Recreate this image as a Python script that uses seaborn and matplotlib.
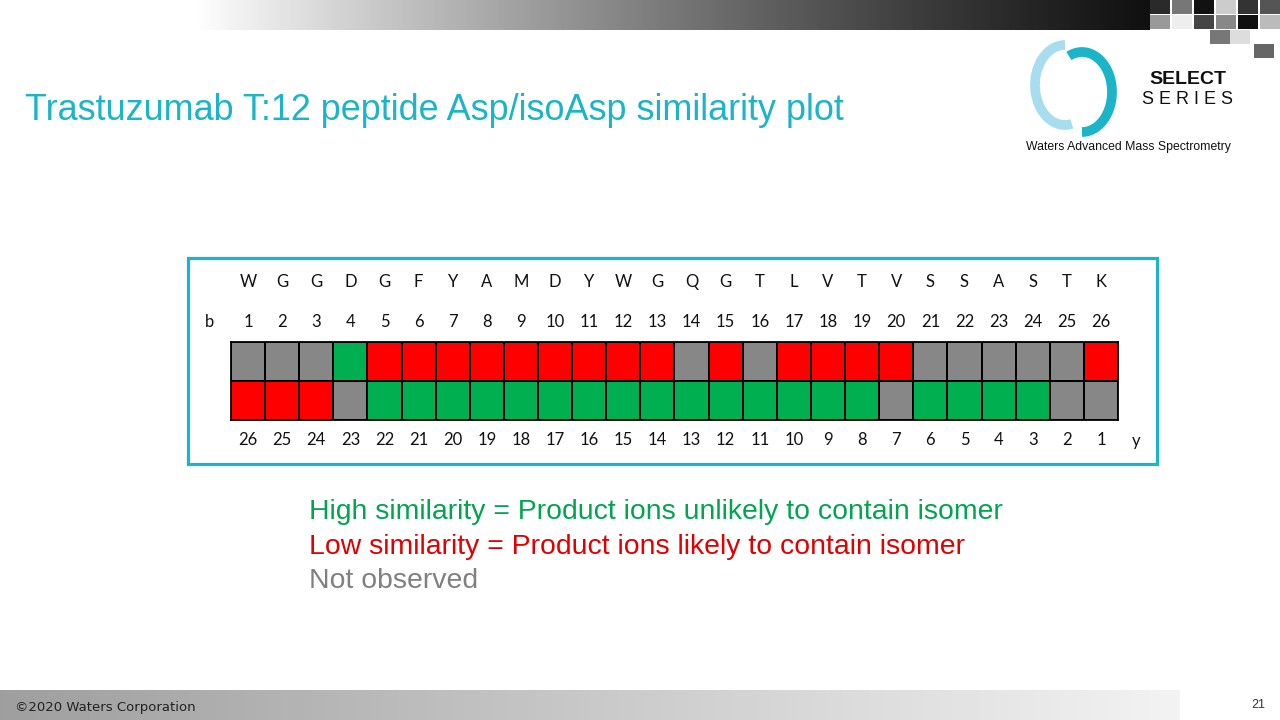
import numpy as np
import pandas as pd
import matplotlib
matplotlib.use("Agg")
import matplotlib.pyplot as plt
from matplotlib.colors import ListedColormap
from matplotlib.patches import Rectangle, Arc
import seaborn as sns

# --- data ---
residues = ['W', 'G', 'G', 'D', 'G', 'F', 'Y', 'A', 'M', 'D', 'Y', 'W', 'G',
            'Q', 'G', 'T', 'L', 'V', 'T', 'V', 'S', 'S', 'A', 'S', 'T', 'K']
b_ions = list(range(1, 27))
y_ions = list(range(26, 0, -1))
# N = not observed, H = high similarity, L = low similarity
b_status = ['N', 'N', 'N', 'H', 'L', 'L', 'L', 'L', 'L', 'L', 'L', 'L', 'L',
            'N', 'L', 'N', 'L', 'L', 'L', 'L', 'N', 'N', 'N', 'N', 'N', 'L']
y_status = ['L', 'L', 'L', 'N', 'H', 'H', 'H', 'H', 'H', 'H', 'H', 'H', 'H',
            'H', 'H', 'H', 'H', 'H', 'H', 'N', 'H', 'H', 'H', 'H', 'N', 'N']

GRAY, GREEN, RED = '#878787', '#00B050', '#FF0000'
CYAN = '#1CB4C8'
code = {'N': 0, 'H': 1, 'L': 2}

W, H = 1280, 720
def fx(x): return x / W
def fy(y): return 1 - y / H

sns.set_theme(style='white')
plt.rcParams['font.family'] = ['Liberation Sans', 'DejaVu Sans']

fig = plt.figure(figsize=(12.8, 7.2), dpi=100)
fig.patch.set_facecolor('white')

# --- top gradient banner ---
bar = fig.add_axes([fx(190), fy(30), fx(1150) - fx(190), 30 / H])
grad = np.linspace(1.0, 0.12, 300) ** 1.3
bar.imshow(grad[None, :], cmap='gray', vmin=0, vmax=1, aspect='auto')
bar.axis('off')
# pixel squares at top right
sq = [(1150, 0, '#2a2a2a'), (1172, 0, '#777777'), (1194, 0, '#111111'), (1216, 0, '#cccccc'),
      (1238, 0, '#333333'), (1260, 0, '#555555'), (1150, 15, '#999999'), (1172, 15, '#eeeeee'),
      (1194, 15, '#444444'), (1216, 15, '#888888'), (1238, 15, '#111111'), (1260, 15, '#bbbbbb'),
      (1210, 30, '#777777'), (1254, 44, '#666666'), (1230, 30, '#dddddd')]
for x, y, c in sq:
    fig.patches.append(Rectangle((fx(x), fy(y + 14)), 20 / W, 14 / H, transform=fig.transFigure,
                                 facecolor=c, edgecolor='none'))

# --- bottom bar ---
bot = fig.add_axes([0, 0, fx(1180), 30 / H])
bot.imshow(np.linspace(0.62, 0.95, 300)[None, :], cmap='gray', vmin=0, vmax=1, aspect='auto')
bot.axis('off')
fig.text(fx(15), fy(708), '©2020 Waters Corporation', fontsize=9.5, color='#222222',
         va='center', family=['DejaVu Sans'])
fig.text(fx(1258), fy(705), '21', fontsize=9, color='#333333', va='center', ha='center')

# --- title ---
fig.text(fx(25), fy(110), 'Trastuzumab T:12 peptide Asp/isoAsp similarity plot',
         fontsize=25.9, color=CYAN, va='center', ha='left')

# --- logo ---
logo = fig.add_axes([fx(1020), fy(140), 100 / W, 100 / H])
logo.set_xlim(0, 100)
logo.set_ylim(0, 100)
logo.axis('off')
logo.add_patch(Arc((45, 55), 60, 80, theta1=90, theta2=280, lw=7, color='#A8DDF0'))
logo.add_patch(Arc((62, 48), 60, 80, theta1=-90, theta2=110, lw=7, color=CYAN))
fig.text(fx(1188), fy(79), 'SELECT', fontsize=14, fontweight='bold', color='#111111',
         ha='center', va='center')
fig.text(fx(1188), fy(100), 'S E R I E S', fontsize=13, color='#111111', ha='center', va='center')
fig.text(fx(1128), fy(147), 'Waters Advanced Mass Spectrometry', fontsize=8.8, color='#111111',
         ha='center', va='center')

# --- similarity grid ---
grid = pd.DataFrame([[code[s] for s in b_status], [code[s] for s in y_status]],
                    index=['b', 'y'], columns=range(1, 27))
ax = fig.add_axes([fx(231), fy(420), fx(1118) - fx(231), (420 - 342) / H])
sns.heatmap(grid, cmap=ListedColormap([GRAY, GREEN, RED]), vmin=-0.5, vmax=2.5,
            cbar=False, linewidths=1.3, linecolor='black', square=False, ax=ax)
ax.set_xticks([])
ax.set_yticks([])
ax.set_xlabel('')
ax.set_ylabel('')
for s in ax.spines.values():
    s.set_visible(True)
    s.set_color('black')
    s.set_linewidth(1.3)

lab_font = dict(fontsize=12, color='#111111', ha='center', va='center', family=['Lato', 'DejaVu Sans'])
for j in range(26):
    xc = fx(231) + (j + 0.5) * (fx(1118) - fx(231)) / 26
    fig.text(xc, fy(282), residues[j], **lab_font)
    fig.text(xc, fy(322), str(b_ions[j]), **lab_font)
    fig.text(xc, fy(440), str(y_ions[j]), **lab_font)
fig.text(fx(209), fy(322), 'b', **lab_font)
fig.text(fx(1136), fy(441), 'y', **lab_font)

# cyan frame
fig.patches.append(Rectangle((fx(188), fy(464)), (1157 - 188) / W, (464 - 258) / H,
                             transform=fig.transFigure, fill=False, edgecolor=CYAN, linewidth=2.3))

# --- legend text ---
fig.text(fx(309), fy(512), 'High similarity = Product ions unlikely to contain isomer',
         fontsize=20.4, color='#00A550', va='center')
fig.text(fx(309), fy(547), 'Low similarity = Product ions likely to contain isomer',
         fontsize=20.4, color='#E00000', va='center')
fig.text(fx(309), fy(581), 'Not observed', fontsize=20.4, color='#808080', va='center')

fig.savefig('out.png', dpi=100)
